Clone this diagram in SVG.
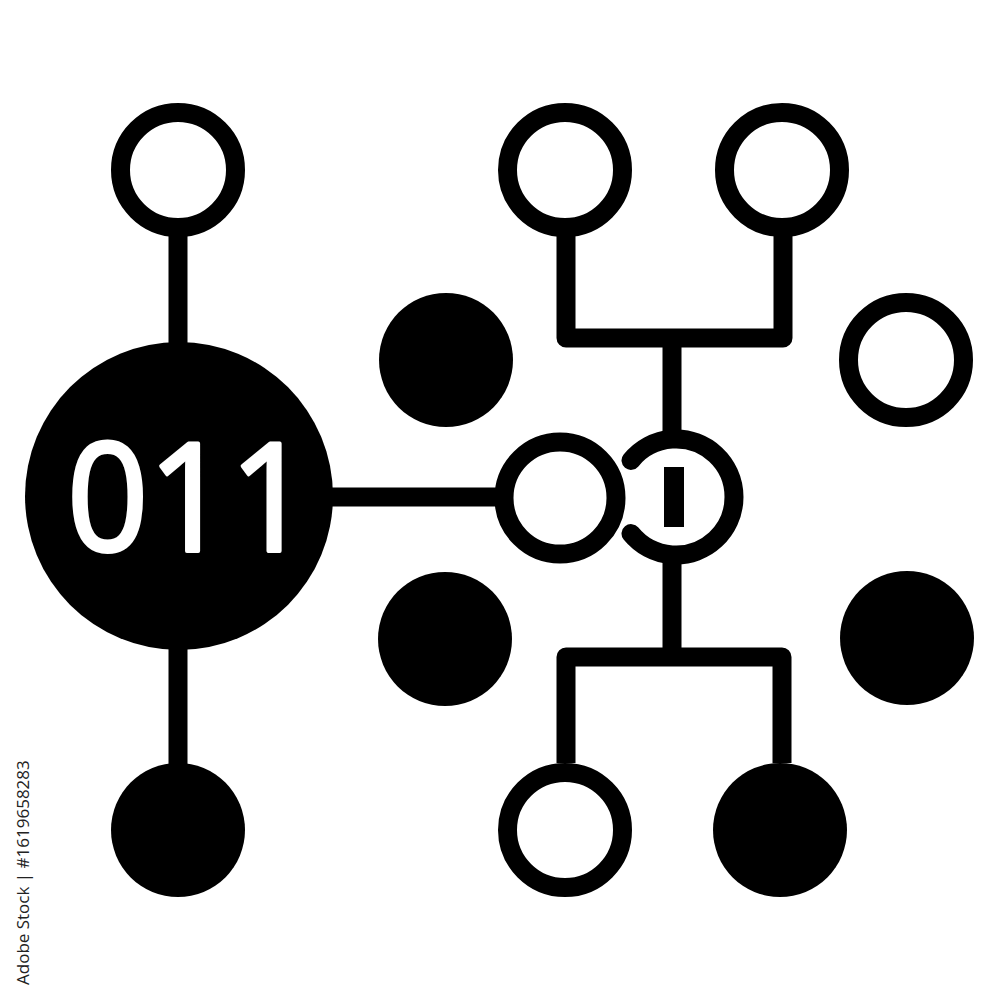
<svg xmlns="http://www.w3.org/2000/svg" width="1000" height="1000" viewBox="0 0 1000 1000">
  <style>
    .ring { fill: #fff; stroke: #000; stroke-width: 19; }
    .dot { fill: #000; }
    .wire { fill: none; stroke: #000; stroke-width: 19; stroke-linejoin: round; }
    .label { fill: #fff; stroke: #fff; stroke-width: 4; stroke-linejoin: round; font-family: "Open Sans", "DejaVu Sans", sans-serif; font-weight: 400; font-size: 150px; }
    .credit { fill: #222; font-family: "Open Sans", "DejaVu Sans", sans-serif; font-size: 17px; }
  </style>
  <rect width="1000" height="1000" fill="#fff"/>
  <g id="connectors">
    <line class="wire" x1="178" y1="236" x2="178" y2="345"/>
    <line class="wire" x1="178" y1="645" x2="178" y2="765"/>
    <line class="wire" x1="330" y1="497" x2="500" y2="497" stroke-width="17"/>
    <path class="wire" d="M566 236 V338 H783 V236"/>
    <line class="wire" x1="672" y1="338" x2="672" y2="436"/>
    <line class="wire" x1="672" y1="558" x2="672" y2="657"/>
    <path class="wire" d="M566 763 V657 H782 V763"/>
  </g>
  <g id="node-top-left"><circle class="ring" cx="178" cy="170" r="57.5"/></g>
  <g id="node-binary">
    <circle class="dot" cx="179" cy="496" r="154"/>
    <text class="label" x="67" y="551" textLength="244" lengthAdjust="spacingAndGlyphs">011</text>
  </g>
  <g id="node-bottom-left"><circle class="dot" cx="178" cy="830" r="67"/></g>
  <g id="node-dot-upper"><circle class="dot" cx="446" cy="360" r="67"/></g>
  <g id="node-dot-lower"><circle class="dot" cx="445" cy="639" r="67"/></g>
  <g id="node-mid-ring"><circle class="ring" cx="560" cy="498" r="56"/></g>
  <g id="node-switch">
    <path class="wire" d="M631 460.4 A58 58 0 1 1 631 533.6" stroke-width="18" stroke-linecap="round"/>
    <rect x="664" y="467" width="20" height="60" fill="#000"/>
  </g>
  <g id="node-top-mid"><circle class="ring" cx="565" cy="170" r="57.5"/></g>
  <g id="node-top-right"><circle class="ring" cx="782" cy="170" r="57.5"/></g>
  <g id="node-right-ring"><circle class="ring" cx="906" cy="360" r="57.5"/></g>
  <g id="node-right-dot"><circle class="dot" cx="907" cy="638" r="67"/></g>
  <g id="node-bottom-mid"><circle class="ring" cx="565" cy="830" r="57.5"/></g>
  <g id="node-bottom-right"><circle class="dot" cx="780" cy="830" r="67"/></g>
  <text class="credit" transform="translate(29 985) rotate(-90)">Adobe Stock | #1619658283</text>
</svg>
